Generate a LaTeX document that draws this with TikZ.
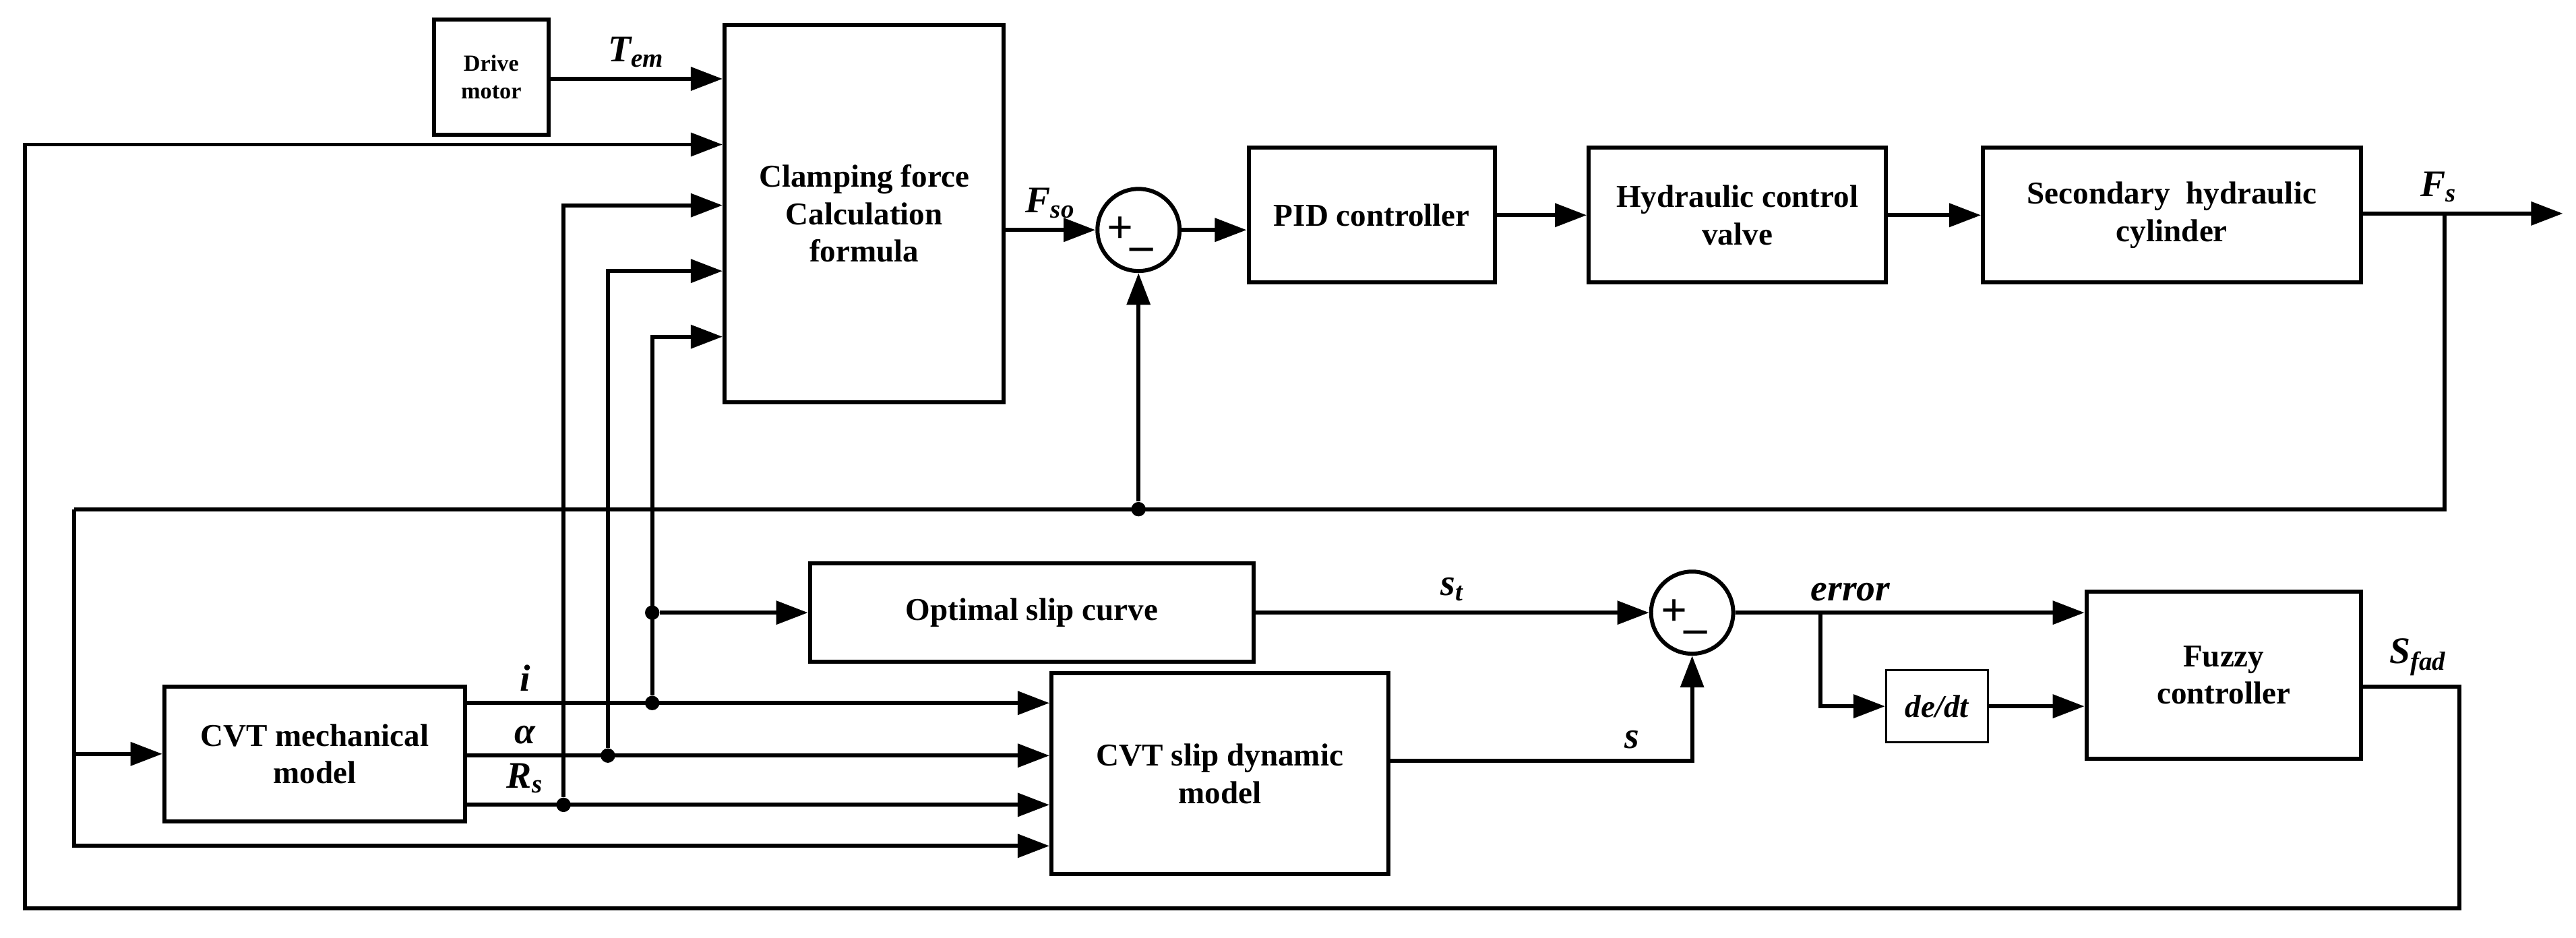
\documentclass[tikz,border=0pt]{standalone}
\usepackage{fontspec}
\setmainfont{Liberation Serif}
\usetikzlibrary{positioning}
\usetikzlibrary{arrows.meta}

\tikzset{
	blk/.style={draw,line width=1.4pt,align=center,font=\bfseries\fontsize{11}{13}\selectfont},	% блок
	sum/.style={draw,circle,line width=1.4pt,minimum size=1cm,inner sep=0pt},						% сумматор
	arr/.style={line width=1.4pt,-{Triangle[length=11pt,width=8pt]}},								% стрелка
	ln/.style={line width=1.4pt},																		% линия
	lab/.style={font=\bfseries\itshape\fontsize{13}{15}\selectfont},									% подпись сигнала
	dot/.style={circle,fill,inner sep=0pt,minimum size=5pt}											% узел
}

\begin{document}
\begin{tikzpicture}[x=0.02cm,y=-0.02cm]
	\useasboundingbox (0,0) rectangle (1568,571);		% рамка
	% блоки
	\node[blk,minimum width=1.4cm,minimum height=1.4cm,font=\bfseries\fontsize{8}{9.5}\selectfont] (motor) at (299,47) {Drive\\motor};
	\node[blk,minimum width=3.4cm,minimum height=4.6cm] (clamp) at (526,130) {Clamping force\\Calculation\\formula};
	\node[blk,minimum width=3cm,minimum height=1.64cm] (pid) at (835,131) {PID controller};
	\node[blk,minimum width=3.62cm,minimum height=1.64cm] (valve) at (1057.5,131) {Hydraulic control\\valve};
	\node[blk,minimum width=4.6cm,minimum height=1.64cm] (cyl) at (1322,131) {Secondary\ \ hydraulic\\cylinder};
	\node[blk,minimum width=3.66cm,minimum height=1.64cm] (mech) at (191.5,459) {CVT mechanical\\model};
	\node[blk,minimum width=5.4cm,minimum height=1.2cm] (opt) at (628,373) {Optimal slip curve};
	\node[blk,minimum width=4.1cm,minimum height=2.44cm] (slip) at (742.5,471) {CVT slip dynamic\\model};
	\node[blk,line width=0.6pt,minimum width=1.24cm,minimum height=0.88cm,font=\bfseries\itshape\fontsize{11}{13}\selectfont] (dedt) at (1179,430) {de/dt};
	\node[blk,minimum width=3.34cm,minimum height=2.04cm] (fuzzy) at (1353.5,411) {Fuzzy\\controller};
	% сумматоры
	\node[sum] (sum1) at (693,140) {};
	\node[sum] (sum2) at (1030,373) {};
	\foreach \s in {sum1,sum2} {
		\node[font=\bfseries\fontsize{16}{16}\selectfont] at ([xshift=-0.22cm]\s.center) {+};
		\node[font=\bfseries\fontsize{16}{16}\selectfont] at ([xshift=0.04cm,yshift=-0.3cm]\s.center) {\textendash};
	}
	% узлы
	\coordinate (out) at (1560,130);
	\coordinate (fb) at (1488,130);
	\coordinate (fbl) at (45,310);
	\coordinate (br) at (1108,373);
	\node[dot] (d1) at (693,310) {};
	\node[dot] (di) at (397,428) {};
	\node[dot] (da) at (370,460) {};
	\node[dot] (dr) at (343,490) {};
	\node[dot] (dopt) at (397,373) {};
	% верхний контур
	\draw[arr] (motor.east |- 0,48) -- (clamp.west |- 0,48) node[lab,midway,above] {T\textsubscript{em}};
	\draw[arr] (clamp.east |- 0,140) -- (sum1.west) node[lab,midway,above] {F\textsubscript{so}};
	\draw[arr] (sum1.east) -- (pid.west |- sum1.east);
	\draw[arr] (pid.east) -- (valve.west);
	\draw[arr] (valve.east) -- (cyl.west);
	\draw[arr] (cyl.east |- out) -- (out) node[lab,pos=0.38,above] {F\textsubscript{s}};
	\draw[ln] (fb) |- (fbl);
	\draw[arr] (d1) -- (sum1.south);
	% входы механической модели
	\draw[arr] (fbl) |- (mech.west);
	\draw[arr] (fbl) |- (slip.west |- 0,515);
	\draw[arr] (mech.east |- di) -- (slip.west |- di) node[lab,pos=0.1,above] {i};
	\draw[arr] (mech.east |- da) -- (slip.west |- da) node[lab,pos=0.1,above] {α};
	\draw[arr] (mech.east |- dr) -- (slip.west |- dr) node[lab,pos=0.1,above] {R\textsubscript{s}};
	\draw[arr] (di) -- (397,205) -- (clamp.west |- 0,205);
	\draw[arr] (da) -- (370,165) -- (clamp.west |- 0,165);
	\draw[arr] (dr) -- (343,125) -- (clamp.west |- 0,125);
	\draw[arr] (dopt) -- (opt.west);
	% контур скольжения
	\draw[arr] (opt.east) -- (sum2.west) node[lab,midway,above] {s\textsubscript{t}};
	\draw[arr] (slip.east |- 0,463) -| (sum2.south) node[lab,pos=0.4,above] {s};
	\draw[arr] (sum2.east) -- (fuzzy.west |- sum2.east) node[lab,pos=0.33,above] {error};
	\draw[arr] (br) |- (dedt.west);
	\draw[arr] (dedt.east) -- (fuzzy.west |- dedt.east);
	\draw[arr] (fuzzy.east |- 0,418) -- (1497,418) -- (1497,553) -- (15,553) -- (15,88) -- (clamp.west |- 0,88);
	\node[lab] (sfad) at (1472,400) {S\textsubscript{fad}};
\end{tikzpicture}
\end{document}
